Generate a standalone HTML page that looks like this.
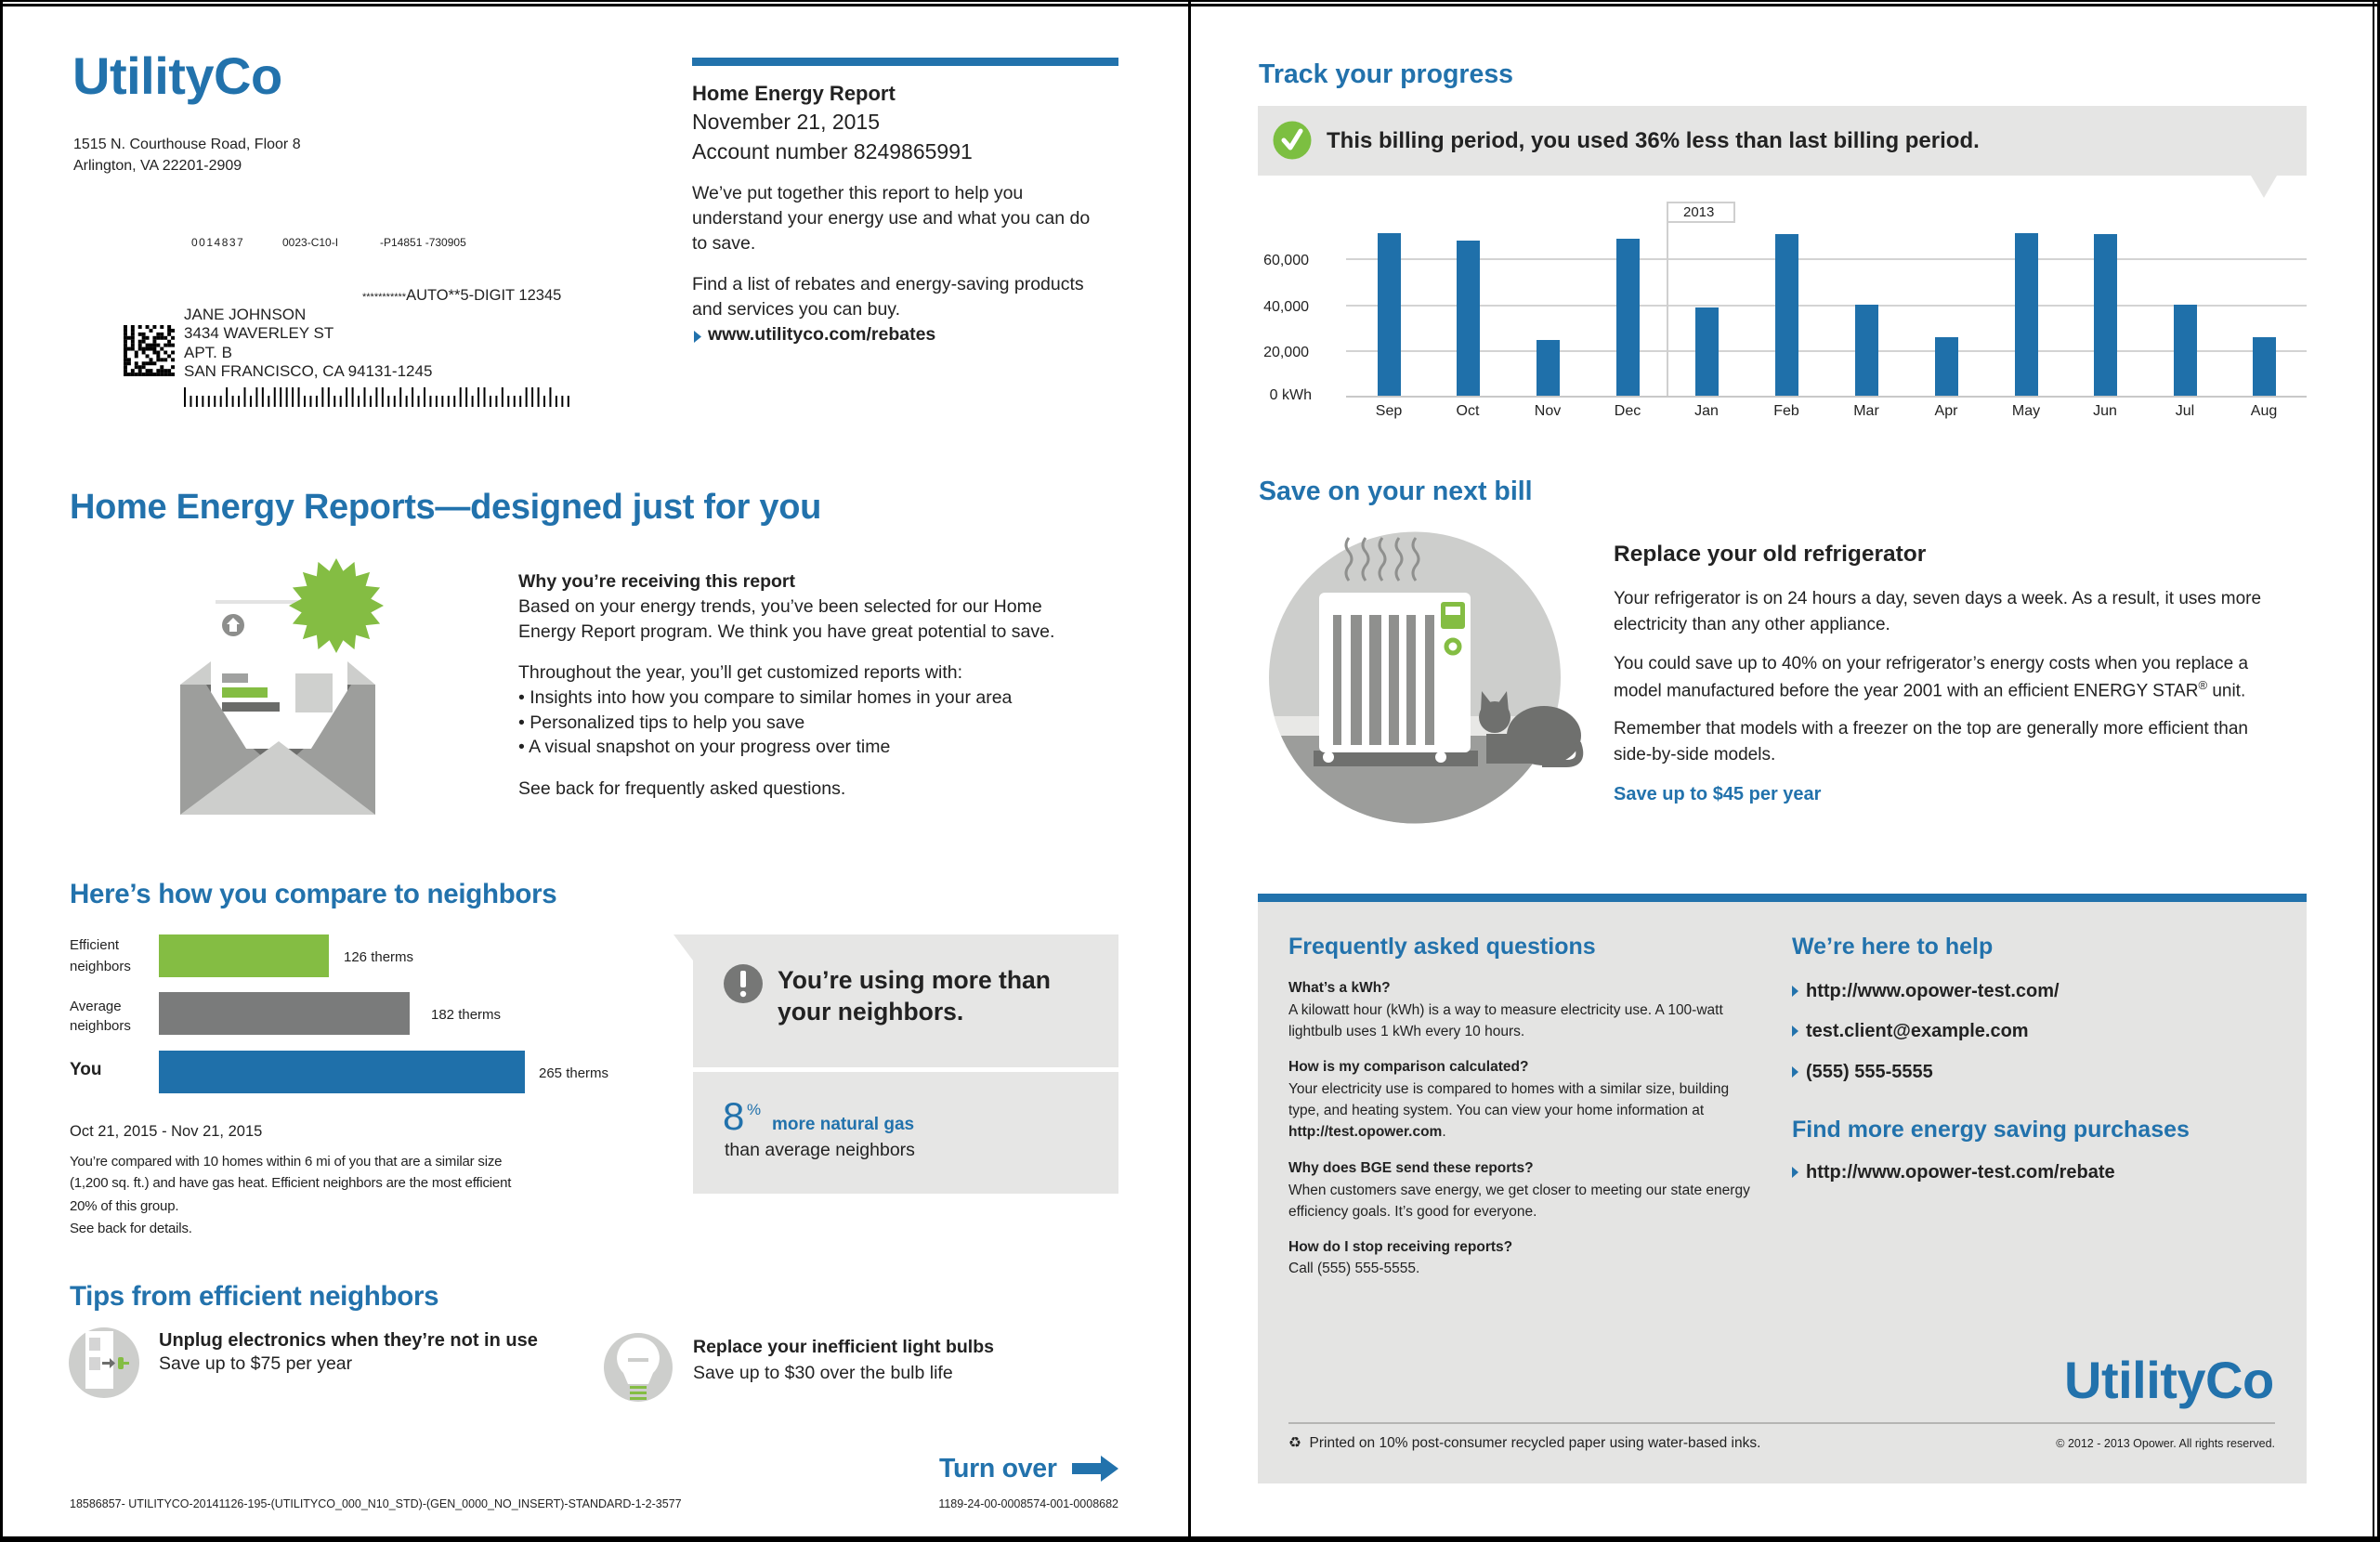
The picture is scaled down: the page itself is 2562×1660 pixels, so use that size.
<!DOCTYPE html>
<html><head><meta charset="utf-8">
<style>
html,body{margin:0;padding:0;background:#fff;}
body{width:2562px;height:1660px;position:relative;overflow:hidden;font-family:"Liberation Sans",Arial,sans-serif;color:#222;}
.t{position:absolute;white-space:nowrap;line-height:1;}
.b{font-weight:bold;}
.blue{color:#2272ac;}
svg{position:absolute;left:0;top:0;}
</style></head><body>
<svg width="2562" height="1660" viewBox="0 0 2562 1660">
<rect x="0" y="0" width="2562" height="2" fill="#000"/>
<rect x="0" y="4" width="2562" height="3" fill="#000"/>
<rect x="0" y="0" width="3" height="1660" fill="#000"/>
<rect x="2554" y="0" width="2" height="1660" fill="#000"/>
<rect x="2559" y="0" width="3" height="1660" fill="#000"/>
<rect x="0" y="1654" width="2562" height="6" fill="#000"/>
<rect x="1279" y="0" width="3" height="1660" fill="#000"/>

<rect x="745" y="62" width="459" height="9" fill="#2272ac"/>
<polygon points="747,356 755,362.5 747,369" fill="#2272ac"/>
<g id="qr"></g>
<g id="bc"></g>

<polygon points="194,737 227,712 374,712 404,737" fill="#cdcecc"/>
<rect x="194" y="737" width="210" height="140" fill="#9d9e9c"/>
<polygon points="194,737 404,737 300,830" fill="#6d6e6c"/>
<rect x="227" y="646" width="147" height="160" fill="#fff"/>
<rect x="232" y="646" width="90" height="4" fill="#e3e3e3"/>
<circle cx="251" cy="673" r="12" fill="#8d8e8c"/>
<polygon points="251,665 258,672 255,672 255,680 247,680 247,672 244,672" fill="#fff"/>
<rect x="239" y="725" width="28" height="10" fill="#a0a1a0"/>
<rect x="239" y="740" width="49" height="11" fill="#84bd43"/>
<rect x="239" y="756" width="62" height="10" fill="#6a6b69"/>
<rect x="318" y="725" width="40" height="42" fill="#cfd0ce"/>
<polygon points="194,737 222,737 300,862 300,877 194,877" fill="#9d9e9c"/>
<polygon points="404,737 378,737 300,862 300,877 404,877" fill="#9d9e9c"/>
<polygon points="194,877 300,798 404,877" fill="#cdcecc"/>
<polygon id="star" fill="#84bd43" points=""/>

<rect x="171" y="1006" width="183" height="46" fill="#84bd43"/>
<rect x="171" y="1068" width="270" height="46" fill="#7a7b7b"/>
<rect x="171" y="1131" width="394" height="46" fill="#1f70aa"/>
<polygon points="725,1006 746,1006 746,1034" fill="#e6e6e5"/>
<rect x="746" y="1006" width="458" height="143" fill="#e6e6e5"/>
<rect x="746" y="1154" width="458" height="131" fill="#e6e6e5"/>
<circle cx="800" cy="1059" r="21" fill="#767776"/>
<rect x="797" y="1045" width="6" height="18" rx="2" fill="#fff"/>
<circle cx="800" cy="1070" r="3.2" fill="#fff"/>

<circle cx="112" cy="1467" r="38" fill="#cdcecc"/>
<rect x="92" y="1433" width="30" height="62" fill="#fff"/>
<rect x="96" y="1440" width="12" height="14" fill="#d5d5d5"/>
<rect x="96" y="1461" width="12" height="14" fill="#d5d5d5"/>
<rect x="110" y="1466" width="10" height="3" fill="#6d6e6c"/>
<polygon points="118,1462 124,1467.5 118,1473" fill="#6d6e6c"/>
<rect x="127" y="1461" width="6" height="13" rx="2" fill="#84bd43"/>
<rect x="133" y="1466" width="6" height="3" fill="#84bd43"/>
<circle cx="687" cy="1472" r="37" fill="#cdcecc"/>
<path d="M687,1440 a22,22 0 0 1 16,38 l-5,12 h-22 l-5,-12 a22,22 0 0 1 16,-38z" fill="#fff"/>
<rect x="676" y="1462" width="22" height="4" fill="#cdcecc"/>
<rect x="678" y="1492" width="18" height="3" fill="#84bd43"/>
<rect x="678" y="1498" width="18" height="3" fill="#84bd43"/>
<rect x="678" y="1504" width="18" height="3" fill="#84bd43"/>
<polygon points="1154,1575 1185,1575 1185,1567 1204,1581 1185,1595 1185,1587 1154,1587" fill="#2272ac"/>

<rect x="1354" y="114" width="1129" height="75" fill="#e5e5e4"/>
<polygon points="2423,189 2451,189 2437,213" fill="#e5e5e4"/>
<circle cx="1391" cy="151" r="20.5" fill="#7cbf41"/>
<polyline points="1382,151 1389,159 1400,141" fill="none" stroke="#fff" stroke-width="5" stroke-linecap="round" stroke-linejoin="round"/>

<rect x="1449" y="278" width="1034" height="2" fill="#d3d3d3"/>
<rect x="1449" y="328" width="1034" height="2" fill="#d3d3d3"/>
<rect x="1449" y="377" width="1034" height="2" fill="#d3d3d3"/>
<rect x="1794" y="239" width="2" height="188" fill="#cfcfcf"/>
<rect x="1795" y="218" width="72" height="21" fill="#fff" stroke="#cfcfcf" stroke-width="2"/>
<g fill="#1f70aa">
<rect x="1483" y="251" width="25" height="176"/>
<rect x="1568" y="259" width="25" height="168"/>
<rect x="1654" y="366" width="25" height="61"/>
<rect x="1740" y="257" width="25" height="170"/>
<rect x="1825" y="331" width="25" height="96"/>
<rect x="1911" y="252" width="25" height="175"/>
<rect x="1997" y="328" width="25" height="99"/>
<rect x="2083" y="363" width="25" height="64"/>
<rect x="2169" y="251" width="25" height="176"/>
<rect x="2254" y="252" width="25" height="175"/>
<rect x="2340" y="328" width="25" height="99"/>
<rect x="2425" y="363" width="25" height="64"/>
</g>
<rect x="1449" y="426" width="1034" height="2" fill="#c8c8c8"/>

<defs><clipPath id="cc"><circle cx="1523" cy="729.5" r="157"/></clipPath></defs>
<g clip-path="url(#cc)">
<rect x="1360" y="570" width="330" height="330" fill="#cdcecc"/>
<rect x="1360" y="771" width="330" height="21" fill="#e8e8e6"/>
<rect x="1360" y="792" width="330" height="110" fill="#9c9d9b"/>
</g>
<g fill="none" stroke="#8f908e" stroke-width="3">
<path d="M1452,579 q-6,8 0,15 q6,8 0,15 q-6,8 0,16"/>
<path d="M1470,579 q-6,8 0,15 q6,8 0,15 q-6,8 0,16"/>
<path d="M1488,579 q-6,8 0,15 q6,8 0,15 q-6,8 0,16"/>
<path d="M1506,579 q-6,8 0,15 q6,8 0,15 q-6,8 0,16"/>
<path d="M1524,579 q-6,8 0,15 q6,8 0,15 q-6,8 0,16"/>
</g>
<rect x="1414" y="808" width="177" height="17" fill="#6f706e"/>
<rect x="1420" y="638" width="163" height="172" rx="6" fill="#fff"/>
<g fill="#8f908e">
<rect x="1435" y="662" width="9" height="140"/>
<rect x="1454" y="662" width="12" height="140"/>
<rect x="1474" y="662" width="13" height="140"/>
<rect x="1495" y="662" width="11" height="140"/>
<rect x="1514" y="662" width="10" height="140"/>
<rect x="1534" y="662" width="10" height="140"/>
</g>
<circle cx="1430" cy="815" r="6" fill="#fff"/>
<circle cx="1551" cy="815" r="6" fill="#fff"/>
<rect x="1551" y="648" width="26" height="29" rx="3" fill="#84bd43"/>
<rect x="1556" y="653" width="16" height="9" fill="#fff"/>
<circle cx="1564" cy="696" r="7" fill="none" stroke="#84bd43" stroke-width="5"/>
<g fill="#6f706e">
<ellipse cx="1662" cy="792" rx="40" ry="32"/>
<rect x="1600" y="790" width="80" height="32"/>
<circle cx="1609" cy="772" r="17"/>
<polygon points="1594,766 1595,744 1606,758"/>
<polygon points="1612,758 1622,744 1624,766"/>
</g>
<path d="M1698,800 q8,22 -12,22 h-26" fill="none" stroke="#6f706e" stroke-width="8"/>

<rect x="1354" y="962" width="1129" height="9" fill="#2272ac"/>
<rect x="1354" y="971" width="1129" height="626" fill="#e4e4e3"/>
<polygon points="1929,1061 1936,1067 1929,1073" fill="#2272ac"/>
<polygon points="1929,1104 1936,1110 1929,1116" fill="#2272ac"/>
<polygon points="1929,1148 1936,1154 1929,1160" fill="#2272ac"/>
<polygon points="1929,1256 1936,1262 1929,1268" fill="#2272ac"/>
<rect x="1387" y="1531" width="1062" height="2" fill="#b5b5b3"/>
</svg>

<div class="t b blue" style="left:78px;top:54px;font-size:56px;letter-spacing:-0.5px;">UtilityCo</div>
<div class="t" style="left:79px;top:148px;font-size:16px;">1515 N. Courthouse Road, Floor 8</div>
<div class="t" style="left:79px;top:171px;font-size:16px;">Arlington, VA 22201-2909</div>
<div class="t" style="left:206px;top:255px;font-size:12px;letter-spacing:1.5px;">0014837</div>
<div class="t" style="left:304px;top:255px;font-size:12px;">0023-C10-I</div>
<div class="t" style="left:409px;top:255px;font-size:12px;">-P14851 -730905</div>
<div class="t" style="left:390px;top:310px;font-size:16.5px;"><span style="font-size:11px">***********</span>AUTO**5-DIGIT 12345</div>
<div class="t" style="left:198px;top:330px;font-size:17px;">JANE JOHNSON</div>
<div class="t" style="left:198px;top:350px;font-size:17px;">3434 WAVERLEY ST</div>
<div class="t" style="left:198px;top:371px;font-size:17px;">APT. B</div>
<div class="t" style="left:198px;top:391px;font-size:17px;">SAN FRANCISCO, CA 94131-1245</div>

<div class="t b" style="left:745px;top:90px;font-size:22px;">Home Energy Report</div>
<div class="t" style="left:745px;top:120px;font-size:23px;">November 21, 2015</div>
<div class="t" style="left:745px;top:152px;font-size:23px;">Account number 8249865991</div>
<div class="t" style="left:745px;top:199px;font-size:19.5px;">We’ve put together this report to help you</div>
<div class="t" style="left:745px;top:226px;font-size:19.5px;">understand your energy use and what you can do</div>
<div class="t" style="left:745px;top:253px;font-size:19.5px;">to save.</div>
<div class="t" style="left:745px;top:297px;font-size:19.5px;">Find a list of rebates and energy-saving products</div>
<div class="t" style="left:745px;top:324px;font-size:19.5px;">and services you can buy.</div>
<div class="t b" style="left:762px;top:351px;font-size:19.5px;">www.utilityco.com/rebates</div>

<div class="t b blue" style="left:75px;top:527px;font-size:38px;letter-spacing:-0.3px;">Home Energy Reports—designed just for you</div>
<div class="t b" style="left:558px;top:617px;font-size:19.5px;">Why you’re receiving this report</div>
<div class="t" style="left:558px;top:644px;font-size:19.5px;">Based on your energy trends, you’ve been selected for our Home</div>
<div class="t" style="left:558px;top:671px;font-size:19.5px;">Energy Report program. We think you have great potential to save.</div>
<div class="t" style="left:558px;top:715px;font-size:19.5px;">Throughout the year, you’ll get customized reports with:</div>
<div class="t" style="left:558px;top:742px;font-size:19.5px;">• Insights into how you compare to similar homes in your area</div>
<div class="t" style="left:558px;top:769px;font-size:19.5px;">• Personalized tips to help you save</div>
<div class="t" style="left:558px;top:795px;font-size:19.5px;">• A visual snapshot on your progress over time</div>
<div class="t" style="left:558px;top:840px;font-size:19.5px;">See back for frequently asked questions.</div>

<div class="t b blue" style="left:75px;top:948px;font-size:29.5px;letter-spacing:-0.3px;">Here’s how you compare to neighbors</div>
<div class="t" style="left:75px;top:1010px;font-size:15px;">Efficient</div>
<div class="t" style="left:75px;top:1033px;font-size:15px;">neighbors</div>
<div class="t" style="left:75px;top:1076px;font-size:15px;">Average</div>
<div class="t" style="left:75px;top:1097px;font-size:15px;">neighbors</div>
<div class="t b" style="left:75px;top:1142px;font-size:19px;">You</div>
<div class="t" style="left:370px;top:1023px;font-size:15px;">126 therms</div>
<div class="t" style="left:464px;top:1085px;font-size:15px;">182 therms</div>
<div class="t" style="left:580px;top:1148px;font-size:15px;">265 therms</div>
<div class="t" style="left:75px;top:1210px;font-size:16.5px;">Oct 21, 2015 - Nov 21, 2015</div>
<div class="t" style="left:75px;top:1243px;font-size:15px;letter-spacing:-0.2px;">You’re compared with 10 homes within 6 mi of you that are a similar size</div>
<div class="t" style="left:75px;top:1266px;font-size:15px;letter-spacing:-0.2px;">(1,200 sq. ft.) and have gas heat. Efficient neighbors are the most efficient</div>
<div class="t" style="left:75px;top:1291px;font-size:15px;letter-spacing:-0.2px;">20% of this group.</div>
<div class="t" style="left:75px;top:1315px;font-size:15px;letter-spacing:-0.2px;">See back for details.</div>
<div class="t b" style="left:837px;top:1042px;font-size:26.5px;">You’re using more than</div>
<div class="t b" style="left:837px;top:1076px;font-size:26.5px;">your neighbors.</div>
<div class="t blue" style="left:778px;top:1181px;font-size:42px;">8</div>
<div class="t blue" style="left:804px;top:1186px;font-size:17px;">%</div>
<div class="t b blue" style="left:831px;top:1201px;font-size:19px;">more natural gas</div>
<div class="t" style="left:780px;top:1229px;font-size:19.5px;">than average neighbors</div>

<div class="t b blue" style="left:75px;top:1381px;font-size:29.5px;letter-spacing:-0.3px;">Tips from efficient neighbors</div>
<div class="t b" style="left:171px;top:1433px;font-size:20px;">Unplug electronics when they’re not in use</div>
<div class="t" style="left:171px;top:1459px;font-size:19.5px;">Save up to $75 per year</div>
<div class="t b" style="left:746px;top:1441px;font-size:19.5px;">Replace your inefficient light bulbs</div>
<div class="t" style="left:746px;top:1469px;font-size:19.5px;">Save up to $30 over the bulb life</div>
<div class="t b blue" style="left:1011px;top:1567px;font-size:28.5px;letter-spacing:-0.3px;">Turn over</div>
<div class="t" style="left:75px;top:1613px;font-size:12.5px;">18586857- UTILITYCO-20141126-195-(UTILITYCO_000_N10_STD)-(GEN_0000_NO_INSERT)-STANDARD-1-2-3577</div>
<div class="t" style="right:1358px;top:1613px;font-size:12.5px;">1189-24-00-0008574-001-0008682</div>

<div class="t b blue" style="left:1355px;top:66px;font-size:28.5px;">Track your progress</div>
<div class="t b" style="left:1428px;top:140px;font-size:24px;">This billing period, you used 36% less than last billing period.</div>
<div class="t" style="right:1153px;top:273px;font-size:16px;">60,000</div>
<div class="t" style="right:1153px;top:323px;font-size:16px;">40,000</div>
<div class="t" style="right:1153px;top:372px;font-size:16px;">20,000</div>
<div class="t" style="right:1150px;top:418px;font-size:16px;">0 kWh</div>
<div class="t" style="left:1812px;top:221px;font-size:15px;">2013</div>
<div id="months"></div>

<div class="t b blue" style="left:1355px;top:515px;font-size:28.5px;">Save on your next bill</div>
<div class="t b" style="left:1737px;top:585px;font-size:24.5px;">Replace your old refrigerator</div>
<div class="t" style="left:1737px;top:635px;font-size:19px;">Your refrigerator is on 24 hours a day, seven days a week. As a result, it uses more</div>
<div class="t" style="left:1737px;top:663px;font-size:19px;">electricity than any other appliance.</div>
<div class="t" style="left:1737px;top:705px;font-size:19px;">You could save up to 40% on your refrigerator’s energy costs when you replace a</div>
<div class="t" style="left:1737px;top:731px;font-size:19px;">model manufactured before the year 2001 with an efficient ENERGY STAR<sup style="font-size:13px">®</sup> unit.</div>
<div class="t" style="left:1737px;top:775px;font-size:19px;">Remember that models with a freezer on the top are generally more efficient than</div>
<div class="t" style="left:1737px;top:803px;font-size:19px;">side-by-side models.</div>
<div class="t b blue" style="left:1737px;top:845px;font-size:20px;">Save up to $45 per year</div>

<div class="t b blue" style="left:1387px;top:1007px;font-size:25px;">Frequently asked questions</div>
<div class="t b blue" style="left:1929px;top:1007px;font-size:25px;">We’re here to help</div>
<div class="t b" style="left:1387px;top:1056px;font-size:15.5px;">What’s a kWh?</div>
<div class="t" style="left:1387px;top:1080px;font-size:15.5px;">A kilowatt hour (kWh) is a way to measure electricity use. A 100-watt</div>
<div class="t" style="left:1387px;top:1103px;font-size:15.5px;">lightbulb uses 1 kWh every 10 hours.</div>
<div class="t b" style="left:1387px;top:1141px;font-size:15.5px;">How is my comparison calculated?</div>
<div class="t" style="left:1387px;top:1165px;font-size:15.5px;">Your electricity use is compared to homes with a similar size, building</div>
<div class="t" style="left:1387px;top:1188px;font-size:15.5px;">type, and heating system. You can view your home information at</div>
<div class="t" style="left:1387px;top:1211px;font-size:15.5px;"><b>http://test.opower.com</b>.</div>
<div class="t b" style="left:1387px;top:1250px;font-size:15.5px;">Why does BGE send these reports?</div>
<div class="t" style="left:1387px;top:1274px;font-size:15.5px;">When customers save energy, we get closer to meeting our state energy</div>
<div class="t" style="left:1387px;top:1297px;font-size:15.5px;">efficiency goals. It’s good for everyone.</div>
<div class="t b" style="left:1387px;top:1335px;font-size:15.5px;">How do I stop receiving reports?</div>
<div class="t" style="left:1387px;top:1358px;font-size:15.5px;">Call (555) 555-5555.</div>
<div class="t b" style="left:1944px;top:1057px;font-size:20px;">http://www.opower-test.com/</div>
<div class="t b" style="left:1944px;top:1100px;font-size:20px;">test.client@example.com</div>
<div class="t b" style="left:1944px;top:1144px;font-size:20px;">(555) 555-5555</div>
<div class="t b blue" style="left:1929px;top:1204px;font-size:25px;">Find more energy saving purchases</div>
<div class="t b" style="left:1944px;top:1252px;font-size:20px;">http://www.opower-test.com/rebate</div>
<div class="t b blue" style="left:2222px;top:1458px;font-size:56px;letter-spacing:-0.5px;">UtilityCo</div>
<div class="t" style="left:1387px;top:1546px;font-size:15.5px;">♻&nbsp; Printed on 10% post-consumer recycled paper using water-based inks.</div>
<div class="t" style="right:113px;top:1548px;font-size:12.5px;">© 2012 - 2013 Opower. All rights reserved.</div>

<script>
(function(){
 var ns="http://www.w3.org/2000/svg";
 var pts=[],cx=362,cy=652,n=16;
 for(var i=0;i<n*2;i++){var a=Math.PI*i/n-Math.PI/2,r=i%2?38:51;pts.push((cx+r*Math.cos(a)).toFixed(1)+","+(cy+r*Math.sin(a)).toFixed(1));}
 document.getElementById("star").setAttribute("points",pts.join(" "));
 var g=document.getElementById("qr"),s=12345;
 function rnd(){s=(s*1103515245+12345)%2147483648;return s/2147483648;}
 for(var y=0;y<14;y++)for(var x=0;x<14;x++){
  var on=(x==0||y==13)?1:(y==0?x%2==0:(x==13?y%2==1:rnd()<0.5));
  if(on){var r=document.createElementNS(ns,"rect");r.setAttribute("x",133+x*3.93);r.setAttribute("y",350+y*3.93);r.setAttribute("width",3.95);r.setAttribute("height",3.95);r.setAttribute("fill","#000");g.appendChild(r);}
 }
 var b=document.getElementById("bc");
 for(var k=0;k<65;k++){var tall=rnd()<0.45;var r2=document.createElementNS(ns,"rect");r2.setAttribute("x",198+k*6.45);r2.setAttribute("y",tall?417:426);r2.setAttribute("width",2);r2.setAttribute("height",tall?21:12);r2.setAttribute("fill","#000");b.appendChild(r2);}
 var m=["Sep","Oct","Nov","Dec","Jan","Feb","Mar","Apr","May","Jun","Jul","Aug"],c=[1495,1580,1666,1752,1837,1923,2009,2095,2181,2266,2352,2437];
 var h="";for(var j=0;j<12;j++)h+='<div class="t" style="left:'+(c[j]-30)+'px;width:60px;text-align:center;top:435px;font-size:16px;">'+m[j]+'</div>';
 document.getElementById("months").innerHTML=h;
})();
</script>
</body></html>
